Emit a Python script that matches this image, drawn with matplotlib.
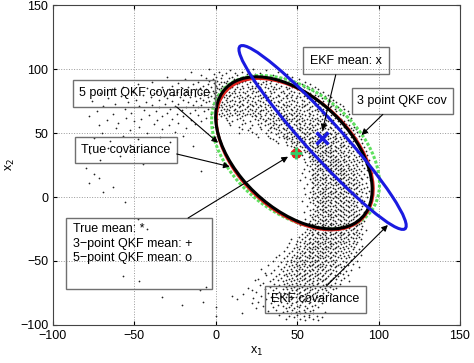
import matplotlib
matplotlib.use("Agg")
import matplotlib.pyplot as plt
from matplotlib.patches import Ellipse, Rectangle

plt.rcParams['font.family'] = ['Liberation Sans', 'DejaVu Sans']

# monte carlo cloud: (x2, [x1 values])
cloud_rows = [
    (100, [-4, 23]), (99, [9, 31]), (98, [-15, 2, 16, 38]), (97, [6, 12, 27]),
    (96, [-1, 19, 24, 44]), (95, [-9, 4, 13, 21, 35]),
    (94, [-30, 0, 10, 17, 29, 33, 47]), (93, [-6, 3, 8, 15, 25, 39, 42]),
    (92, [-19, -2, 11, 14, 20, 27, 36, 51]),
    (91, [-4, 1, 7, 18, 23, 31, 34, 45, 48]),
    (90, [-39, -11, 3, 5, 12, 16, 21, 29, 38, 41, 55]),
    (89, [-23, -1, 6, 9, 14, 24, 26, 33, 44, 50]),
    (88, [-48, -14, -5, 2, 11, 13, 19, 28, 31, 37, 46, 53, 58]),
    (87, [-27, -8, 0, 4, 8, 16, 22, 25, 34, 40, 49, 56]),
    (86, [-57, -33, -17, -3, 5, 10, 13, 20, 27, 30, 36, 43, 47, 54, 61]),
    (85, [-42, -21, -10, 1, 3, 9, 17, 22, 24, 32, 39, 45, 52, 59]),
    (84, [-64, -29, -12, -6, 2, 7, 12, 15, 21, 28, 35, 37, 44, 50, 57, 63]),
    (83, [-36, -18, -2, 4, 6, 11, 19, 23, 26, 33, 41, 46, 55, 60]),
    (82, [-51, -24, -15, -4, 0, 8, 14, 17, 25, 30, 36, 40, 48, 53, 62, 66]),
    (81, [-71, -38, -9, -1, 3, 10, 12, 18, 22, 29, 34, 42, 45, 51, 58, 64]),
    (80, [-45, -26, -19, -7, 1, 6, 9, 15, 20, 27, 31, 38, 44, 47, 55, 61, 69]),
    (79, [-58, -32, -13, -3, 4, 8, 13, 19, 24, 26, 33, 39, 43, 50, 54, 63, 67]),
    (78, [-40, -22, -16, -5, 0, 5, 11, 16, 21, 29, 32, 37, 46, 52, 57, 60, 71]),
    (77, [-66, -30, -10, -1, 3, 7, 14, 18, 23, 28, 35, 41, 44, 49, 56, 65, 68]),
    (76, [-49, -35, -20, -8, 1, 6, 10, 17, 20, 26, 31, 34, 40, 47, 53, 59, 62, 72]),
    (75, [-76, -27, -12, -4, 2, 9, 12, 15, 22, 27, 33, 38, 45, 48, 54, 61, 66, 70]),
    (74, [-54, -43, -17, -6, 4, 7, 14, 19, 24, 29, 36, 39, 43, 50, 57, 60, 64, 74]),
    (73, [-62, -31, -23, -2, 1, 5, 11, 16, 21, 25, 30, 34, 41, 46, 53, 56, 63, 69, 76]),
    (72, [-39, -14, -9, 3, 8, 13, 17, 22, 27, 32, 37, 42, 44, 49, 55, 61, 65, 72]),
    (71, [-69, -47, -25, 0, 6, 10, 15, 20, 23, 28, 35, 38, 45, 51, 54, 59, 67, 71, 78]),
    (70, [-35, -18, -11, 2, 4, 9, 14, 19, 26, 30, 33, 40, 43, 48, 53, 58, 64, 70, 75]),
    (69, [-56, -28, -5, 5, 7, 12, 18, 21, 25, 31, 36, 41, 46, 50, 57, 62, 66, 73, 79]),
    (68, [-44, -21, -13, 3, 8, 11, 16, 22, 28, 29, 34, 39, 44, 47, 52, 56, 61, 68, 77]),
    (67, [-73, -37, -7, 1, 6, 13, 15, 20, 24, 27, 32, 38, 42, 49, 54, 59, 63, 70, 74, 81]),
    (66, [-52, -30, -16, 4, 9, 12, 17, 23, 26, 31, 35, 40, 45, 48, 51, 57, 65, 72, 79]),
    (65, [-63, -24, -3, 2, 7, 14, 19, 21, 27, 33, 37, 43, 46, 53, 58, 62, 67, 76, 82]),
    (64, [-41, -11, 5, 10, 13, 18, 24, 30, 34, 39, 42, 47, 50, 55, 60, 66, 71, 78]),
    (63, [-78, -33, -20, 3, 8, 16, 22, 25, 28, 36, 41, 44, 49, 52, 57, 64, 69, 74, 80]),
    (62, [-55, -6, 6, 15, 27, 32, 35, 38, 43, 48, 53, 59, 62, 67, 73, 83]),
    (61, [-46, -27, 1, 13, 24, 29, 33, 40, 45, 47, 51, 56, 61, 65, 70, 77]),
    (60, [-67, -36, -15, 7, 17, 26, 31, 37, 39, 44, 50, 54, 58, 63, 68, 72, 81]),
    (59, [-50, -9, 10, 21, 30, 35, 41, 46, 49, 53, 60, 64, 69, 75, 79]),
    (58, [-60, -23, 8, 18, 28, 33, 36, 42, 45, 51, 55, 58, 62, 67, 71, 78, 84]),
    (57, [-38, -13, 16, 26, 32, 37, 40, 44, 48, 52, 57, 63, 66, 72, 76, 80]),
    (56, [-72, -29, 9, 22, 30, 35, 39, 43, 49, 54, 59, 61, 68, 74, 82]),
    (55, [-47, -2, 14, 27, 34, 38, 45, 47, 52, 56, 60, 65, 70, 73, 79, 85]),
    (54, [-61, -18, 21, 33, 36, 41, 44, 50, 53, 58, 64, 67, 71, 77, 83]),
    (53, [-33, 16, 28, 37, 42, 46, 51, 55, 57, 62, 66, 69, 75, 81, 86]),
    (52, [-53, 20, 32, 39, 43, 48, 52, 59, 61, 65, 72, 76, 84]),
    (51, [-25, 22, 34, 40, 45, 47, 53, 56, 60, 64, 68, 73, 79, 87]),
    (50, [-70, -42, 14, 31, 38, 44, 49, 54, 58, 63, 67, 70, 75, 82]),
    (49, [25, 37, 42, 46, 50, 55, 57, 62, 66, 71, 74, 80, 85]),
    (48, [-57, -20, 32, 41, 44, 48, 52, 56, 61, 64, 69, 73, 78, 88]),
    (47, [-34, 26, 39, 43, 47, 51, 54, 59, 63, 67, 72, 76, 83]),
    (46, [-75, 33, 42, 45, 49, 53, 58, 60, 65, 70, 74, 79, 86]),
    (45, [-48, 35, 44, 47, 52, 55, 57, 62, 66, 69, 73, 77, 81, 89]),
    (44, [-65, 37, 46, 50, 54, 59, 61, 64, 68, 72, 75, 80, 84]),
    (43, [-28, 43, 48, 51, 53, 58, 63, 66, 71, 74, 78, 87]),
    (42, [38, 47, 50, 55, 57, 60, 65, 69, 72, 77, 82, 90]),
    (41, [-53, 44, 49, 54, 58, 62, 64, 67, 71, 76, 79, 85]),
    (40, [-14, 46, 52, 56, 59, 63, 66, 70, 73, 78, 81, 88]),
    (39, [48, 53, 55, 60, 62, 65, 69, 74, 77, 83, 91]),
    (38, [-66, 50, 57, 61, 64, 68, 71, 75, 80, 86]),
    (37, [51, 54, 59, 63, 67, 70, 73, 76, 82, 89]),
    (36, [-40, 56, 61, 65, 68, 72, 74, 79, 84, 92]),
    (35, [55, 58, 62, 66, 69, 71, 77, 81, 87]),
    (34, [-77, 57, 60, 64, 67, 70, 75, 78, 83, 90]),
    (33, [53, 59, 63, 65, 68, 72, 76, 80, 85, 93]),
    (32, [-59, 58, 61, 64, 69, 71, 74, 79, 82, 88]),
    (31, [57, 60, 62, 66, 70, 73, 77, 81, 86, 91]),
    (30, [54, 59, 63, 65, 68, 72, 75, 79, 84, 89]),
    (29, [-71, 61, 64, 67, 71, 74, 78, 82, 87, 94]),
    (28, [58, 60, 63, 66, 69, 73, 76, 80, 85, 90]),
    (27, [55, 62, 65, 70, 72, 75, 79, 83, 88]),
    (26, [-45, 59, 61, 64, 67, 71, 74, 77, 81, 86, 92]),
    (25, [56, 63, 68, 70, 73, 76, 80, 84, 90]),
    (24, [58, 62, 66, 69, 72, 75, 78, 82, 87, 95]),
    (23, [-80, 61, 64, 67, 71, 74, 77, 81, 85, 91]),
    (22, [54, 59, 63, 65, 70, 73, 76, 79, 83, 88]),
    (21, [60, 64, 68, 71, 75, 78, 82, 86, 93]),
    (20, [-9, 57, 62, 66, 69, 72, 77, 80, 84, 89]),
    (19, [53, 61, 65, 70, 74, 76, 79, 83, 87, 96]),
    (18, [-75, 60, 63, 67, 71, 75, 78, 81, 85, 91]),
    (17, [59, 62, 66, 69, 73, 77, 80, 84, 88]),
    (16, [55, 61, 64, 68, 72, 74, 79, 82, 86, 93]),
    (15, [-72, 60, 65, 67, 70, 76, 78, 83, 89]),
    (14, [58, 62, 66, 71, 73, 77, 81, 85, 90]),
    (13, [52, 61, 64, 68, 72, 75, 80, 84, 87, 95]),
    (12, [59, 63, 67, 70, 74, 78, 82, 88]),
    (11, [-78, 60, 65, 69, 73, 76, 79, 83, 86, 92]),
    (10, [56, 62, 66, 71, 75, 78, 81, 85, 90]),
    (9, [61, 64, 68, 72, 74, 80, 84, 88]),
    (8, [-63, 60, 63, 67, 70, 76, 79, 82, 87, 93]),
    (7, [54, 59, 65, 69, 72, 75, 78, 83, 86, 91]),
    (6, [62, 66, 68, 73, 77, 81, 85, 89]),
    (5, [60, 64, 67, 71, 74, 79, 82, 88, 94]),
    (4, [-69, 58, 63, 66, 70, 73, 76, 80, 84, 90]),
    (3, [61, 65, 69, 72, 77, 81, 86, 92]),
    (2, [55, 60, 64, 67, 71, 75, 78, 83, 87]),
    (1, [62, 66, 69, 73, 76, 80, 85, 89]),
    (0, [59, 63, 68, 70, 74, 79, 82, 86, 93]),
    (-1, [57, 61, 65, 67, 72, 75, 78, 84, 88]),
    (-2, [60, 64, 69, 71, 76, 80, 83, 90]),
    (-3, [53, 62, 66, 68, 73, 77, 81, 85, 91]),
    (-4, [-56, 58, 63, 65, 70, 74, 79, 82, 87]),
    (-5, [60, 64, 67, 71, 75, 78, 84, 89]),
    (-6, [61, 66, 69, 73, 76, 80, 83, 86, 92]),
    (-7, [56, 63, 65, 70, 72, 77, 81, 85, 90]),
    (-8, [62, 67, 68, 74, 78, 82, 87]),
    (-9, [60, 64, 66, 71, 75, 79, 84, 89]),
    (-10, [58, 62, 65, 69, 73, 76, 80, 83, 88, 93]),
    (-11, [61, 67, 70, 74, 77, 81, 86]),
    (-12, [54, 63, 66, 68, 72, 78, 82, 85, 91]),
    (-13, [60, 64, 69, 71, 75, 79, 84, 88]),
    (-14, [58, 62, 65, 70, 73, 76, 80, 83, 87]),
    (-15, [61, 67, 69, 74, 77, 82, 86, 92]),
    (-16, [59, 63, 66, 71, 72, 78, 81, 85, 89]),
    (-17, [-48, 55, 60, 64, 68, 70, 75, 79, 84, 88]),
    (-18, [61, 65, 67, 72, 76, 80, 83, 87]),
    (-19, [58, 63, 66, 69, 73, 77, 82, 86, 91]),
    (-20, [57, 62, 64, 68, 71, 74, 79, 81, 85, 89]),
    (-21, [59, 61, 66, 70, 72, 76, 80, 84, 88]),
    (-22, [52, 60, 65, 67, 71, 75, 78, 83, 87]),
    (-23, [57, 63, 66, 69, 73, 77, 81, 86, 90]),
    (-24, [59, 62, 67, 70, 74, 79, 82, 85]),
    (-25, [-42, 56, 60, 64, 68, 72, 76, 78, 84, 89]),
    (-26, [58, 61, 66, 69, 71, 75, 80, 83, 87, 92]),
    (-27, [55, 59, 63, 67, 70, 74, 77, 81, 86]),
    (-28, [57, 62, 65, 68, 73, 76, 79, 84, 88]),
    (-29, [53, 60, 63, 66, 71, 72, 78, 82, 85, 90]),
    (-30, [56, 59, 64, 67, 70, 75, 77, 81, 87]),
    (-31, [51, 55, 61, 65, 68, 73, 76, 80, 83, 88]),
    (-32, [58, 62, 64, 69, 71, 74, 79, 84, 86]),
    (-33, [46, 53, 57, 60, 66, 68, 72, 77, 81, 89]),
    (-34, [50, 55, 61, 63, 67, 70, 75, 78, 82, 85]),
    (-35, [52, 58, 62, 65, 69, 73, 76, 80, 87]),
    (-36, [45, 54, 57, 60, 64, 67, 71, 74, 79, 84]),
    (-37, [49, 56, 59, 63, 66, 70, 72, 77, 82, 86]),
    (-38, [52, 55, 61, 64, 68, 71, 75, 80, 83, 90]),
    (-39, [44, 50, 57, 60, 62, 67, 69, 74, 78, 85]),
    (-40, [48, 54, 58, 63, 65, 70, 73, 76, 81]),
    (-41, [51, 56, 59, 61, 66, 68, 72, 79, 84, 88]),
    (-42, [42, 47, 53, 57, 62, 64, 69, 75, 77, 82]),
    (-43, [50, 55, 58, 60, 65, 67, 71, 73, 80, 86]),
    (-44, [45, 52, 54, 59, 63, 66, 70, 74, 78, 83]),
    (-45, [39, 48, 53, 57, 61, 64, 68, 72, 76, 81, 89]),
    (-46, [44, 50, 55, 58, 62, 65, 69, 73, 79, 85]),
    (-47, [37, 47, 52, 56, 60, 63, 67, 71, 75, 82]),
    (-48, [42, 49, 51, 57, 59, 64, 66, 70, 77, 80]),
    (-49, [46, 53, 55, 61, 63, 68, 72, 74, 83]),
    (-50, [35, 44, 48, 52, 56, 59, 62, 67, 71, 78, 87]),
    (-51, [40, 46, 50, 54, 58, 61, 65, 69, 73, 80]),
    (-52, [43, 49, 53, 55, 60, 64, 66, 72, 76, 84]),
    (-53, [32, 47, 51, 57, 59, 63, 68, 70, 75, 81]),
    (-54, [38, 45, 50, 54, 58, 62, 65, 71, 74, 79]),
    (-55, [42, 48, 52, 56, 61, 64, 67, 73, 77, 88]),
    (-56, [28, 40, 46, 51, 53, 59, 63, 66, 70, 78]),
    (-57, [36, 44, 49, 55, 57, 60, 65, 69, 72, 83]),
    (-58, [41, 47, 50, 54, 58, 62, 68, 74, 80]),
    (-59, [30, 34, 45, 52, 56, 61, 64, 67, 71, 76]),
    (-60, [39, 43, 48, 51, 55, 59, 63, 70, 78]),
    (-61, [31, 42, 46, 50, 54, 58, 62, 66, 73, 81]),
    (-62, [-57, 37, 44, 49, 53, 57, 61, 65, 69, 75]),
    (-63, [40, 47, 52, 55, 60, 63, 68, 72, 79]),
    (-64, [26, 35, 45, 50, 54, 58, 64, 67, 74]),
    (-65, [24, 38, 43, 48, 53, 57, 62, 66, 71, 77]),
    (-66, [-47, 33, 41, 46, 51, 56, 60, 65, 70, 82]),
    (-67, [29, 44, 49, 55, 59, 63, 69, 73]),
    (-68, [36, 42, 47, 52, 57, 62, 68, 76]),
    (-69, [27, 39, 45, 50, 54, 60, 66, 71]),
    (-70, [-6, 33, 43, 48, 53, 58, 64, 70]),
    (-71, [20, 37, 46, 51, 56, 61, 67, 74]),
    (-72, [30, 41, 44, 50, 55, 59, 65, 72]),
    (-73, [-10, 22, 35, 47, 49, 54, 58, 63, 68]),
    (-74, [25, 39, 45, 52, 57, 62, 69]),
    (-75, [32, 42, 48, 51, 56, 61, 66]),
    (-76, [17, 37, 44, 50, 55, 60, 71]),
    (-77, [10, 28, 40, 46, 53, 58, 64]),
    (-78, [-33, 34, 43, 49, 52, 57, 62]),
    (-79, [23, 38, 47, 51, 56, 66]),
    (-80, [13, 31, 42, 46, 54, 60]),
    (-81, [36, 45, 50, 55, 63]),
    (-82, [-8, 26, 40, 49, 53, 58]),
    (-83, [22, 34, 44, 47, 57, 65]),
    (-84, [-21, 38, 46, 52, 61]),
    (-85, [29, 41, 50, 55, 59]),
    (-86, [0, 35, 45, 51, 63]),
    (-87, [25, 43, 48, 56]),
    (-88, [37, 47, 54, 60]),
    (-89, [32, 44, 51, 58]),
    (-90, [41, 49, 55, 67]),
    (-91, [16, 46, 52, 60]),
    (-92, [39, 50, 57]),
    (-93, [0, 45, 54, 62]),
    (-94, [48, 57, 65]),
    (-95, [43, 52, 60]),
    (-96, [55, 63]),
]

# covariance ellipses: centre, semi axes, tilt (deg)
ell_names = ['true', '5-point QKF', '3-point QKF', 'EKF']
ell_cx = [48.5, 48.0, 49.0, 65.6]
ell_cy = [33.5, 34.5, 35.0, 46.5]
ell_a = [66.0, 66.5, 67.0, 87.5]
ell_b = [38.3, 37.7, 42.0, 12.0]
ell_ang = [-57.0, -57.0, -55.0, -54.8]
ell_col = ['#e0201b', 'black', '#5fe05f', '#1a1ae0']
ell_ls = ['-', '-', (0, (1.0, 0.6)), '-']

# means
true_mean = (49.5, 34.0)
qkf3_mean = (49.0, 34.5)
qkf5_mean = (49.0, 34.0)
ekf_mean = (65.5, 46.0)

cx, cy = [], []
for yv, xs in cloud_rows:
    for xv in xs:
        cx.append(xv)
        cy.append(yv)

fig = plt.figure(figsize=(4.74, 3.63), dpi=100)
ax = fig.add_axes([0.1118, 0.1047, 0.8586, 0.8815])

ax.plot(cx, cy, 'o', ms=1.25, mew=0, color='#222222', zorder=2)

for i in [2, 0, 1, 3]:
    e = Ellipse((ell_cx[i], ell_cy[i]), 2 * ell_a[i], 2 * ell_b[i], angle=ell_ang[i],
                fill=False, edgecolor=ell_col[i], lw=2.2, ls=ell_ls[i], zorder=3)
    ax.add_patch(e)

ax.plot(*qkf5_mean, 'o', ms=6, mfc='none', mec='#e0201b', mew=1.5, zorder=4)
ax.plot(*true_mean, '*', ms=7, color='#e0201b', zorder=4)
ax.plot(*qkf3_mean, '+', ms=8, mew=2, color='#33cc66', zorder=5)
ax.plot(*ekf_mean, 'x', ms=9, mew=2.5, color='#1a1ae0', zorder=5)

ax.set_xlim(-100, 150)
ax.set_ylim(-100, 150)
ax.set_xticks([-100, -50, 0, 50, 100, 150])
ax.set_yticks([-100, -50, 0, 50, 100, 150])
ax.set_xticklabels(['\u2212100', '\u221250', '0', '50', '100', '150'])
ax.set_yticklabels(['\u2212100', '\u221250', '0', '50', '100', '150'])
ax.tick_params(direction='in', length=3, labelsize=9, top=True, right=True)
ax.grid(True, ls=':', color='#999999', lw=0.7)
ax.set_xlabel('x$_1$', fontsize=9, labelpad=2)
ax.set_ylabel('x$_2$', fontsize=9, labelpad=2)
for s in ax.spines.values():
    s.set_color('#444444')

# text boxes with arrows, MATLAB textarrow style
box_col = '#707070'
def box(x0, y0, x1, y1):
    ax.add_patch(Rectangle((x0, y0), x1 - x0, y1 - y0, fill=False,
                           edgecolor=box_col, lw=1, zorder=6))

def arrow(start, tip):
    ax.annotate('', xy=tip, xytext=start,
                arrowprops=dict(arrowstyle='-|>', color='k', lw=0.8,
                                mutation_scale=9, shrinkA=0, shrinkB=0),
                zorder=7)

fs = 9
box(53.4, 96, 106.3, 117)
ax.text(80, 106.5, 'EKF mean: x', fontsize=fs, ha='center', va='center', zorder=7)
arrow((73.7, 95.5), (65.5, 52))

box(83.5, 65, 145.6, 85)
ax.text(114.5, 75, '3 point QKF cov', fontsize=fs, ha='center', va='center', zorder=7)
arrow((102.6, 64.5), (89.5, 48.4))

box(-88, 70.3, -0.6, 91.4)
ax.text(-84, 81, '5 point QKF covariance', fontsize=fs, ha='left', va='center', zorder=7)
arrow((-24, 70.3), (1.4, 42.4))

box(-86.6, 26.6, -24, 47)
ax.text(-55.3, 37, 'True covariance', fontsize=fs, ha='center', va='center', zorder=7)
arrow((-24, 33.6), (8.6, 23.7))

box(-92, -72, -2.5, -16.4)
ax.text(-88, -25, 'True mean: *', fontsize=fs, ha='left', va='center', zorder=7)
ax.text(-88, -37, '3\u2212point QKF mean: +', fontsize=fs, ha='left', va='center', zorder=7)
ax.text(-88, -48, '5\u2212point QKF mean: o', fontsize=fs, ha='left', va='center', zorder=7)
arrow((-17, -16.4), (44.4, 31.5))

box(30, -90.6, 92, -69.5)
ax.text(61, -80, 'EKF covariance', fontsize=fs, ha='center', va='center', zorder=7)
arrow((68, -69.5), (105.7, -21.9))

fig.savefig('out.png', dpi=100)
